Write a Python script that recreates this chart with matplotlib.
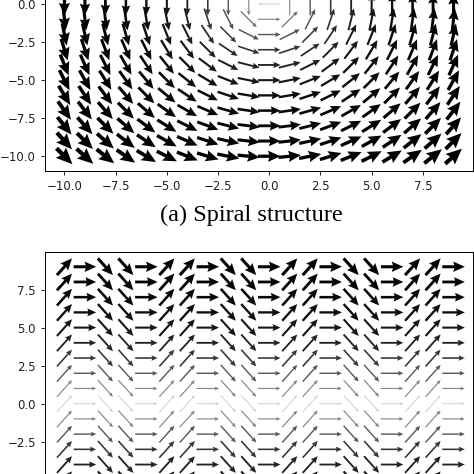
import numpy as np
import matplotlib
matplotlib.use("Agg")
import matplotlib.pyplot as plt

# grid of arrow positions (same for both panels)
x_grid = [-10, -9, -8, -7, -6, -5, -4, -3, -2, -1, 0, 1, 2, 3, 4, 5, 6, 7, 8, 9]
y_grid = [-10, -9, -8, -7, -6, -5, -4, -3, -2, -1, 0, 1, 2, 3, 4, 5, 6, 7, 8, 9]

# panel (b): arrow angle (deg) for each column, strength for each row
col_angle_b = [48, 0, -48, -48, 0, 48, 48, 0, -48, -48, 0, 48, 48, 0, -48, -48, 0, 48, 48, 0]
row_strength_b = [10, 9, 8, 7, 6, 5, 4, 3, 2, 1, 0, 1, 2, 3, 4, 5, 6, 7, 8, 9]

ticks = [-10.0, -7.5, -5.0, -2.5, 0.0, 2.5, 5.0, 7.5]
caption_a = "(a) Spiral structure"

W, H = 474, 474
ARROW_LEN = 0.225   # inches


def shade(m):
    g = 0.80 * np.exp(-m / 2.3)
    return (g, g, g)


def draw_field(ax, X, Y, ang, mag):
    for m in np.unique(mag):
        sel = mag == m
        ax.quiver(X[sel], Y[sel], np.cos(ang[sel]), np.sin(ang[sel]),
                  color=shade(m), units="dots", width=0.9 + 0.24 * m,
                  headwidth=3.4, headlength=3.8, headaxislength=3.4,
                  scale_units="inches", scale=1 / ARROW_LEN, pivot="middle")


def style_axes(ax):
    ax.set_xlim(-10.95, 9.95)
    ax.set_ylim(-10.95, 9.95)
    ax.set_xticks(ticks)
    ax.set_yticks(ticks)
    ax.tick_params(labelsize=8.5, length=3, width=0.7, colors="#222222")
    for s in ax.spines.values():
        s.set_linewidth(0.7)


fig = plt.figure(figsize=(W / 100, H / 100), dpi=100)

X, Y = np.meshgrid(np.array(x_grid, float), np.array(y_grid, float))

# (a) circulating field
ax1 = fig.add_axes([45 / W, (H - 170.7) / H, 428 / W, 318 / H])
ang_a = np.arctan2(X, -Y)
mag_a = np.round(np.hypot(X, Y), 3)
draw_field(ax1, X, Y, ang_a, mag_a)
style_axes(ax1)

fig.text(251 / W, 1 - 215 / H, caption_a, ha="center", va="center",
         fontsize=17.5, family=["Liberation Serif", "DejaVu Serif"])

# (b) modulated field
ax2 = fig.add_axes([45 / W, (H - 252.3 - 318) / H, 428 / W, 318 / H])
ang_b = np.deg2rad(np.tile(col_angle_b, (len(y_grid), 1)))
mag_b = np.tile(np.array(row_strength_b, float)[:, None], (1, len(x_grid)))
draw_field(ax2, X, Y, ang_b, mag_b)
style_axes(ax2)

fig.savefig("out.png", dpi=100)
